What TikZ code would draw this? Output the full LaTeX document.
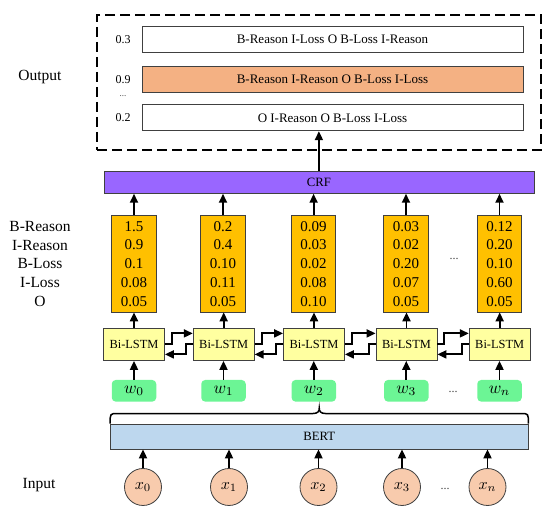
\documentclass[tikz,border=0pt]{standalone}
\usepackage{fontspec}
\setmainfont{Liberation Serif}
\usetikzlibrary{arrows.meta,calc}
\definecolor{bordergray}{HTML}{404040}
\definecolor{salmon}{HTML}{F4B183}
\definecolor{crfpurple}{HTML}{9966FF}
\definecolor{scoreorange}{HTML}{FFC000}
\definecolor{lstmyellow}{HTML}{FFFFA0}
\definecolor{wgreen}{HTML}{6CF595}
\definecolor{bertblue}{HTML}{BDD7EE}
\definecolor{xpeach}{HTML}{F8CBAD}
\newcommand{\wlbl}[1]{\scalebox{1.7}{$w_{#1}$}}
\newcommand{\xlbl}[1]{\scalebox{1.6}{$x_{#1}$}}
\begin{document}
\begin{tikzpicture}[x=1pt,y=-1pt,
  arr/.style={-{Triangle[length=9pt,width=8pt]}, line width=1.9pt},
  rowbox/.style={draw=bordergray, line width=0.8pt, minimum width=381pt, minimum height=26pt, inner sep=0pt, font=\fontsize{13}{15}\selectfont},
  plbl/.style={inner sep=0pt, font=\fontsize{12}{14}\selectfont},
  biglbl/.style={inner sep=0pt, align=center, font=\fontsize{15.5}{18.75}\selectfont},
  dotlbl/.style={inner sep=0pt, text=bordergray, font=\fontsize{12}{14}\selectfont},
  scorebox/.style={draw=bordergray, line width=0.8pt, fill=scoreorange, minimum width=44.5pt, minimum height=96.5pt, inner sep=0pt, align=center, font=\fontsize{15}{18.75}\selectfont},
  lstmbox/.style={draw=bordergray, line width=0.8pt, fill=lstmyellow, minimum width=61pt, minimum height=32.2pt, inner sep=0pt, font=\fontsize{12.4}{14}\selectfont},
  wbox/.style={fill=wgreen, rounded corners=4pt, minimum width=44.5pt, minimum height=21.7pt, inner sep=0pt},
  xcirc/.style={circle, draw=bordergray, line width=0.8pt, fill=xpeach, minimum size=37pt, inner sep=0pt},
  widebox/.style={draw=bordergray, line width=0.8pt, inner sep=0pt, font=\fontsize{12.7}{14}\selectfont}
]
\useasboundingbox (0,0) rectangle (550,513);

% output block
\node[draw, line width=2pt, dash pattern=on 10pt off 5pt, minimum width=444pt, minimum height=135pt, inner sep=0pt] (outbox) at (319,82.5) {};
\node[rowbox] (r1) at (332.5,39.5) {B-Reason I-Loss O B-Loss I-Reason};
\node[rowbox, fill=salmon] (r2) at (332.5,79.2) {B-Reason I-Reason O B-Loss I-Loss};
\node[rowbox] (r3) at (332.5,117.8) {O I-Reason O B-Loss I-Loss};
\node[plbl] (p1) at (123,39.5) {0.3};
\node[plbl] (p2) at (123,79.2) {0.9};
\node[dotlbl, font=\fontsize{9}{10}\selectfont] (pd) at (123,96.2) {...};
\node[plbl] (p3) at (123,117.8) {0.2};
\node[biglbl] (outlbl) at (40,77) {Output};

% CRF
\node[widebox, fill=crfpurple, minimum width=430pt, minimum height=22.3pt] (crf) at (318.9,182.2) {CRF};
\draw[arr] (crf.north) -- (crf.north |- r3.south);

% score boxes
\node[biglbl] (tags) at (40,264) {B-Reason\\I-Reason\\B-Loss\\I-Loss\\O};
\node[scorebox] (s0) at (134,263.7) {1.5\\0.9\\0.1\\0.08\\0.05};
\node[scorebox] (s1) at (223,263.7) {0.2\\0.4\\0.10\\0.11\\0.05};
\node[scorebox] (s2) at (313.6,263.7) {0.09\\0.03\\0.02\\0.08\\0.10};
\node[scorebox] (s3) at (406,263.7) {0.03\\0.02\\0.20\\0.07\\0.05};
\node[scorebox] (s4) at (499.5,263.7) {0.12\\0.20\\0.10\\0.60\\0.05};
\node[dotlbl] (sd) at (454,259) {...};

% Bi-LSTM
\node[lstmbox] (l0) at (134,344.4) {Bi-LSTM};
\node[lstmbox] (l1) at (223.7,344.4) {Bi-LSTM};
\node[lstmbox] (l2) at (314,344.4) {Bi-LSTM};
\node[lstmbox] (l3) at (406.5,344.4) {Bi-LSTM};
\node[lstmbox] (l4) at (499.7,344.4) {Bi-LSTM};

% w nodes
\node[wbox] (w0) at (134,390.8) {\wlbl{0}};
\node[wbox] (w1) at (223.5,390.8) {\wlbl{1}};
\node[wbox] (w2) at (313.8,390.8) {\wlbl{2}};
\node[wbox] (w3) at (406.3,390.8) {\wlbl{3}};
\node[wbox] (w4) at (499.5,390.8) {\wlbl{n}};
\node[dotlbl] (wd) at (453,392) {...};

% BERT
\node[widebox, fill=bertblue, minimum width=417.5pt, minimum height=25pt] (bert) at (319.25,436.5) {BERT};
\coordinate (bl) at (bert.north west);
\coordinate (br) at (bert.north east);
\coordinate (btip) at ($(bert.north)+(0,-15.5)$);
\draw[line width=1.5pt] (bl) .. controls ($(bl)+(0,-10)$) .. ($(bl)+(7,-10)$)
  -- ($(btip)+(-7,5.5)$) .. controls ($(btip)+(-1,5.5)$) and ($(btip)+(0,3)$) .. (btip)
  .. controls ($(btip)+(0,3)$) and ($(btip)+(1,5.5)$) .. ($(btip)+(7,5.5)$)
  -- ($(br)+(-7,-10)$) .. controls ($(br)+(0,-10)$) .. (br);

% inputs
\node[xcirc] (x0) at (143,487) {\xlbl{0}};
\node[xcirc] (x1) at (229,487) {\xlbl{1}};
\node[xcirc] (x2) at (318.5,487) {\xlbl{2}};
\node[xcirc] (x3) at (402,487) {\xlbl{3}};
\node[xcirc] (x4) at (487.5,487) {\xlbl{n}};
\node[dotlbl] (xd) at (445,489) {...};
\node[biglbl] (inlbl) at (39,485) {Input};

% vertical arrows
\foreach \i in {0,...,4}{
  \draw[arr] (s\i.north) -- (s\i.north |- crf.south);
  \draw[arr] (l\i.north) -- (l\i.north |- s\i.south);
  \draw[arr] (w\i.north) -- (w\i.north |- l\i.south);
  \draw[arr] (x\i.north) -- (x\i.north |- bert.south);
}

% Bi-LSTM links
\foreach \a/\b in {0/1,1/2,2/3,3/4}{
  \draw[arr] (l\a.east) -- ++(7,0) |- ($(l\b.west)+(0,-11)$);
  \draw[arr] (l\b.west) -- ++(-7,0) |- ($(l\a.east)+(0,10)$);
}
\end{tikzpicture}
\end{document}
